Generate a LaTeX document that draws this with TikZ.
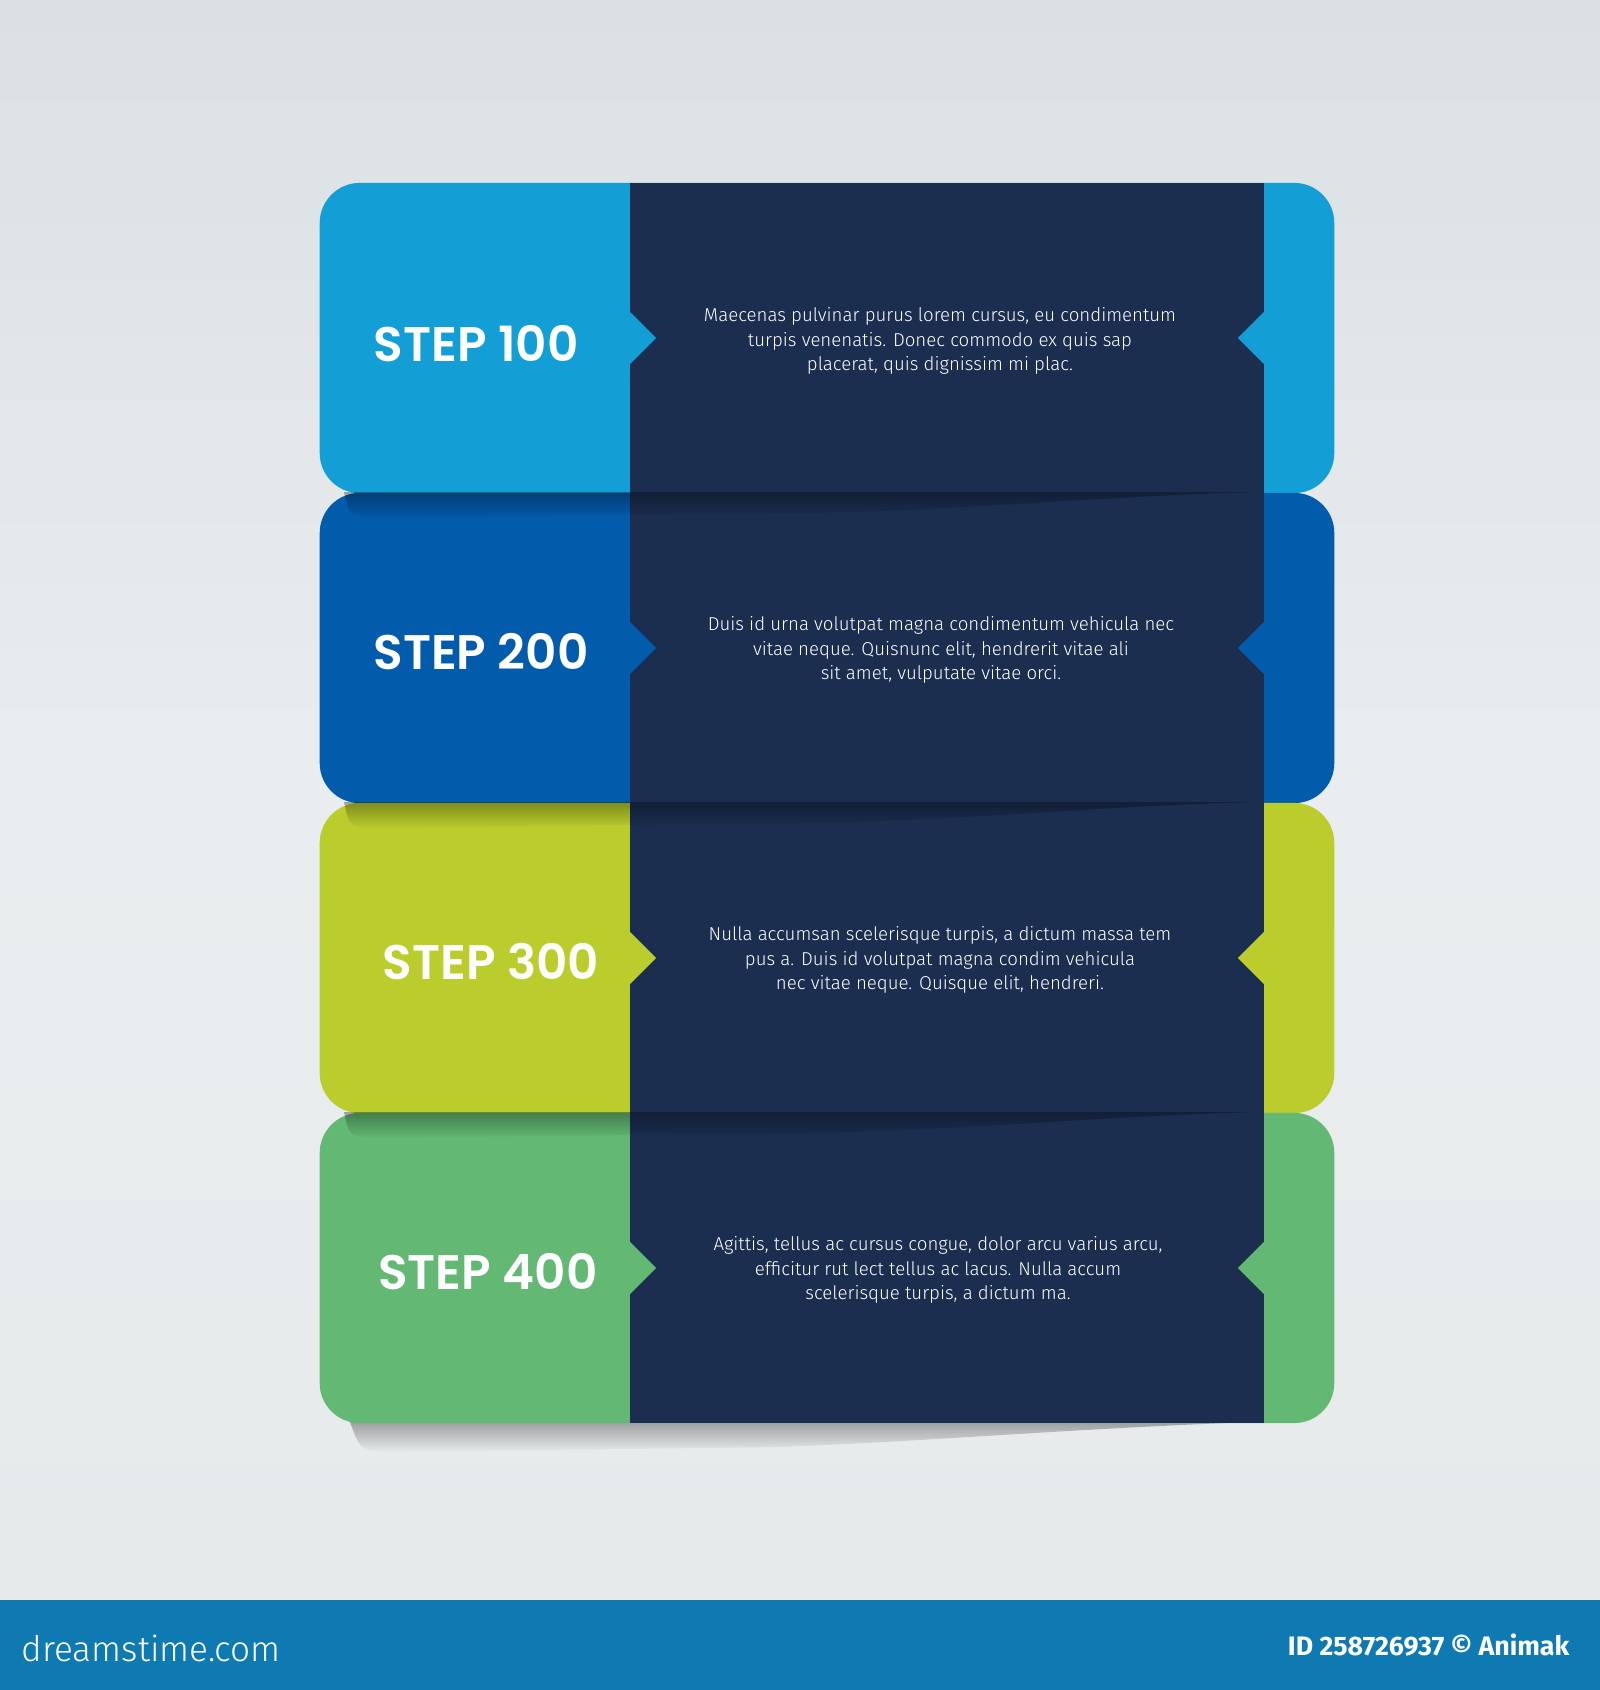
\documentclass[tikz,border=0pt]{standalone}
\usepackage{fontspec}
\setmainfont{Fira Sans}
\newfontfamily\bodyfont{Fira Sans Light}
\newfontfamily\stepfont{Poppins SemiBold}
\usepackage{tikz}
\usetikzlibrary{fadings}

\definecolor{stepone}{RGB}{19,158,214}
\definecolor{steptwo}{RGB}{3,91,172}
\definecolor{stepthree}{RGB}{187,205,44}
\definecolor{stepfour}{RGB}{99,184,116}
\definecolor{navy}{RGB}{27,46,80}
\definecolor{barblue}{RGB}{15,121,177}
\definecolor{bgtop}{RGB}{218,224,227}
\definecolor{bgmid}{RGB}{234,237,239}
\definecolor{bgbot}{RGB}{231,234,235}

\begin{document}
\begin{tikzpicture}[x=0.01cm, y=-0.01cm,
    card/.style={rectangle, rounded corners=0.4cm, minimum width=10.14cm,
      minimum height=3.1cm, inner sep=0pt},
    panel/.style={rectangle, fill=navy, minimum width=6.34cm,
      minimum height=3.1cm, inner sep=0pt},
    steplabel/.style={text=white, inner sep=0pt,
      font=\stepfont\fontsize{13.8pt}{16pt}\selectfont},
    desc/.style={text=white, align=center, inner sep=0pt,
      font=\bodyfont\fontsize{5.3pt}{7.05pt}\selectfont},
    cardshadow/.style={fill=black, opacity=0.32, path fading=south}]

    \useasboundingbox (0,0) rectangle (1600,1690);
    \shade[top color=bgtop, bottom color=bgbot, middle color=bgmid] (0,0) rectangle (1600,1600);

    % shadow under the last card
    \fill[cardshadow] (350,1422) -- (1250,1422) .. controls (1050,1430) and (950,1440) .. (780,1447)
      -- (390,1452) .. controls (360,1450) .. (350,1422) -- cycle;

    \node[card, fill=stepone] (card1) at (827,338) {};
    \node[card, fill=steptwo] (card2) at (827,648) {};
    \node[card, fill=stepthree] (card3) at (827,958) {};
    \node[card, fill=stepfour] (card4) at (827,1268) {};

    \node[panel] (panel1) at (947,338) {};
    \node[panel] (panel2) at (947,648) {};
    \node[panel] (panel3) at (947,958) {};
    \node[panel] (panel4) at (947,1268) {};

    \fill[stepone] (panel1.west) ++(0,-27) -- ++(27,27) -- ++(-27,27) -- cycle;
    \fill[stepone] (panel1.east) ++(0,-27) -- ++(-27,27) -- ++(27,27) -- cycle;
    \fill[steptwo] (panel2.west) ++(0,-27) -- ++(27,27) -- ++(-27,27) -- cycle;
    \fill[steptwo] (panel2.east) ++(0,-27) -- ++(-27,27) -- ++(27,27) -- cycle;
    \fill[stepthree] (panel3.west) ++(0,-27) -- ++(27,27) -- ++(-27,27) -- cycle;
    \fill[stepthree] (panel3.east) ++(0,-27) -- ++(-27,27) -- ++(27,27) -- cycle;
    \fill[stepfour] (panel4.west) ++(0,-27) -- ++(27,27) -- ++(-27,27) -- cycle;
    \fill[stepfour] (panel4.east) ++(0,-27) -- ++(-27,27) -- ++(27,27) -- cycle;

    % shadows where one card lies on the next
    \fill[cardshadow] (card2.north west) ++(25,0) -- ++(905,0) .. controls +(-200,6) and +(250,0) .. ++(-550,22)
      -- ++(-335,4) .. controls +(-15,-4) .. ++(-20,-26) -- cycle;
    \fill[cardshadow] (card3.north west) ++(25,0) -- ++(905,0) .. controls +(-200,6) and +(250,0) .. ++(-550,22)
      -- ++(-335,4) .. controls +(-15,-4) .. ++(-20,-26) -- cycle;
    \fill[cardshadow] (card4.north west) ++(25,0) -- ++(905,0) .. controls +(-200,6) and +(250,0) .. ++(-550,22)
      -- ++(-335,4) .. controls +(-15,-4) .. ++(-20,-26) -- cycle;

    \node[steplabel] (label1) at (476,344) {STEP 100};
    \node[steplabel] (label2) at (481,652) {STEP 200};
    \node[steplabel] (label3) at (491,962) {STEP 300};
    \node[steplabel] (label4) at (488,1272) {STEP 400};

    \node[desc] (text1) at (940,341) {Maecenas pulvinar purus lorem cursus, eu condimentum\\
      turpis venenatis. Donec commodo ex quis sap\\ placerat, quis dignissim mi plac.};
    \node[desc] (text2) at (941,650) {Duis id urna volutpat magna condimentum vehicula nec\\
      vitae neque. Quisnunc elit, hendrerit vitae ali\\ sit amet, vulputate vitae orci.};
    \node[desc] (text3) at (940,960) {Nulla accumsan scelerisque turpis, a dictum massa tem\\
      pus a. Duis id volutpat magna condim vehicula\\ nec vitae neque. Quisque elit, hendreri.};
    \node[desc] (text4) at (938,1270) {Agittis, tellus ac cursus congue, dolor arcu varius arcu,\\
      efficitur rut lect tellus ac lacus. Nulla accum\\ scelerisque turpis, a dictum ma.};

    \fill[barblue] (0,1600) rectangle (1600,1690);
    \node[text=white, anchor=west, inner sep=0pt, font=\bodyfont\fontsize{10pt}{12pt}\selectfont] (site) at (21,1648) {dreamstime.com};
    \node[text=white, anchor=east, inner sep=0pt, font=\bfseries\fontsize{7.6pt}{9pt}\selectfont] (imgid) at (1570,1645) {ID 258726937 © Animak};

  \end{tikzpicture}
\end{document}
